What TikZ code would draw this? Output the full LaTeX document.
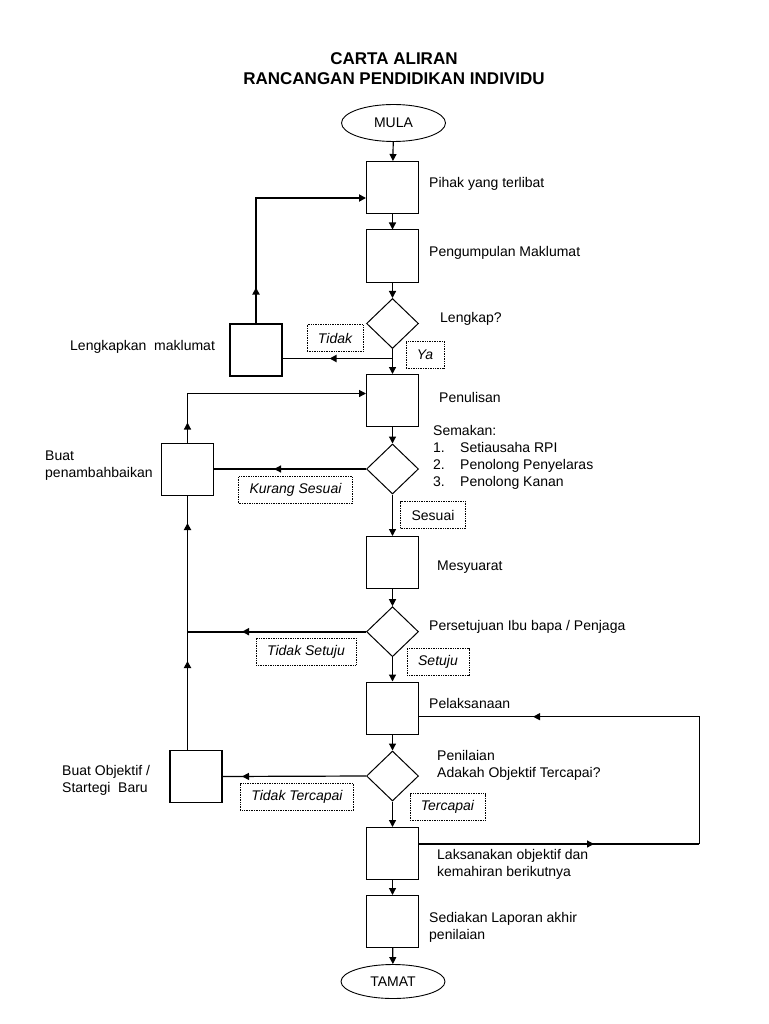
\documentclass[tikz,border=0pt]{standalone}
\usepackage{fontspec}
\setmainfont{Liberation Sans}
\usetikzlibrary{arrows.meta,shapes.geometric,decorations.markings}
\tikzset{
	box/.style={draw, line width=1pt, minimum width=52pt, minimum height=52pt, inner sep=0pt},
	cond/.style={draw, diamond, line width=1pt, minimum width=52pt, minimum height=50pt, inner sep=0pt},
	term/.style={draw, ellipse, line width=0.9pt, minimum width=104pt, minimum height=37pt, inner sep=0pt},
	tag/.style={draw, densely dotted, line width=0.7pt, inner xsep=11pt, inner ysep=0pt, minimum height=27pt, font=\fontsize{14}{17}\selectfont\itshape},
	txt/.style={anchor=west, align=left, inner sep=0pt},
	link/.style={line width=1.2pt},
	heavy/.style={line width=1.9pt},
	flow/.style={link, -{Triangle[length=7pt,width=7pt]}},
	arrowat/.style={postaction={decorate}, decoration={markings, mark=at position #1 with {\arrow{Triangle[length=7pt,width=7pt]}}}}
}
\begin{document}
\begin{tikzpicture}[x=1pt, y=-1pt, font=\fontsize{14}{17}\selectfont]
	\useasboundingbox (0,0) rectangle (768,1024);
	% title
	\node[align=center, font=\fontsize{17}{20}\selectfont\bfseries] (title) at (394,68.5) {CARTA ALIRAN\\RANCANGAN PENDIDIKAN INDIVIDU};
	% start and end
	\node[term] (mula) at (393.5,123) {MULA};
	\node[term, minimum height=34pt] (tamat) at (393,981.5) {TAMAT};
	% boxes of the main column and the side ones
	\def\boxes {pihak/392.5/187.5, kumpul/392.5/256, tulis/392.5/400.5, mesyuarat/392.5/562.5, laksana/392.5/708, lanjut/392.5/853.5, lapor/392.5/921.5, lengkapkan/256/350, tambah/187.5/469, objektif/196/776.5};
	\foreach \name\x\y in \boxes{
		\node[box] (\name) at (\x,\y) {};
	}
	\node[box, line width=1.6pt] at (lengkapkan) {};
	\node[box, line width=1.6pt] at (objektif) {};
	% decisions
	\def\conds {lengkap/323.5, semak/469, setuju/631.7, nilai/776};
	\foreach \name\y in \conds{
		\node[cond] (\name) at (392.5,\y) {};
	}
	% texts beside the shapes
	\node[txt] (tpihak) at (429,184) {Pihak yang terlibat};
	\node[txt] (tkumpul) at (429,253) {Pengumpulan Maklumat};
	\node[txt] (tlengkap) at (440,319) {Lengkap?};
	\node[txt] (tlengkapkan) at (70,347) {Lengkapkan\ \ maklumat};
	\node[txt] (ttulis) at (439,397) {Penulisan};
	\node[txt] (ttambah) at (45,465.5) {Buat\\penambahbaikan};
	\node[txt] (tsemak) at (433,457.5) {Semakan:\\\makebox[27pt][l]{1.}Setiausaha RPI\\\makebox[27pt][l]{2.}Penolong Penyelaras\\\makebox[27pt][l]{3.}Penolong Kanan};
	\node[txt] (tmesyuarat) at (437,567) {Mesyuarat};
	\node[txt] (tsetuju) at (429,627) {Persetujuan Ibu bapa / Penjaga};
	\node[txt] (tlaksana) at (429,703) {Pelaksanaan};
	\node[txt] (tnilai) at (437,765) {Penilaian\\Adakah Objektif Tercapai?};
	\node[txt] (tobjektif) at (62,780) {Buat Objektif /\\Startegi\ \ Baru};
	\node[txt] (tlanjut) at (437,864.5) {Laksanakan objektif dan\\kemahiran berikutnya};
	\node[txt] (tlapor) at (429,927) {Sediakan Laporan akhir\\penilaian};
	% dotted answer tags
	\node[tag] (tidak) at (335,338) {Tidak};
	\node[tag] (ya) at (425,354.5) {Ya};
	\node[tag] (kurang) at (295.5,490) {Kurang Sesuai};
	\node[tag, font=\fontsize{14}{17}\selectfont] (sesuai) at (433,515) {Sesuai};
	\node[tag] (tidaksetuju) at (306,651.5) {Tidak Setuju};
	\node[tag] (yasetuju) at (438,662) {Setuju};
	\node[tag] (tidakcapai) at (297,797) {Tidak Tercapai};
	\node[tag] (capai) at (447.5,807) {Tercapai};
	% straight flow down the main column
	\foreach \s\t in {mula/pihak, pihak/kumpul, kumpul/lengkap, lengkap/tulis, tulis/semak, semak/mesyuarat, mesyuarat/setuju, setuju/laksana, laksana/nilai, nilai/lanjut, lanjut/lapor, lapor/tamat}{
		\draw[flow] (\s) -- (\t);
	}
	% Tidak: back to Pihak yang terlibat
	\coordinate (j1) at ([yshift=-9.5pt]lengkap.south);
	\draw[heavy, arrowat=63pt] (j1) -- (j1 -| lengkapkan.east);
	\draw[heavy, arrowat=36pt, -{Triangle[length=7pt,width=7pt]}] (lengkapkan.north) |- ([yshift=-10.5pt]pihak.west);
	% Kurang Sesuai and Tidak Setuju go back to Penulisan
	\draw[link, arrowat=92pt] (semak.west) -- (tambah.east);
	\coordinate (j2) at (setuju.west -| tambah.south);
	\draw[heavy, arrowat=124pt] (setuju.west) -- (j2);
	\draw[flow, arrowat=20pt] (tambah.north) |- ([yshift=7pt]tulis.west);
	% Tidak Tercapai up the left spine
	\draw[link, arrowat=124pt] (nilai.west) -- (objektif.east);
	\draw[heavy, arrowat=89pt] ([xshift=-8.5pt]objektif.north) -- (j2);
	\draw[heavy, arrowat=108.7pt] (j2) -- (tambah.south);
	% Tercapai: loop on the right side
	\coordinate (rb) at (699.3,844);
	\coordinate (rt) at (699.3,716.7);
	\draw[link, arrowat=175pt] ([yshift=9.5pt]lanjut.east) -- (rb);
	\draw[link, arrowat=293.6pt] (rb) -- (rt) -- ([yshift=-8.7pt]laksana.east);
\end{tikzpicture}
\end{document}
